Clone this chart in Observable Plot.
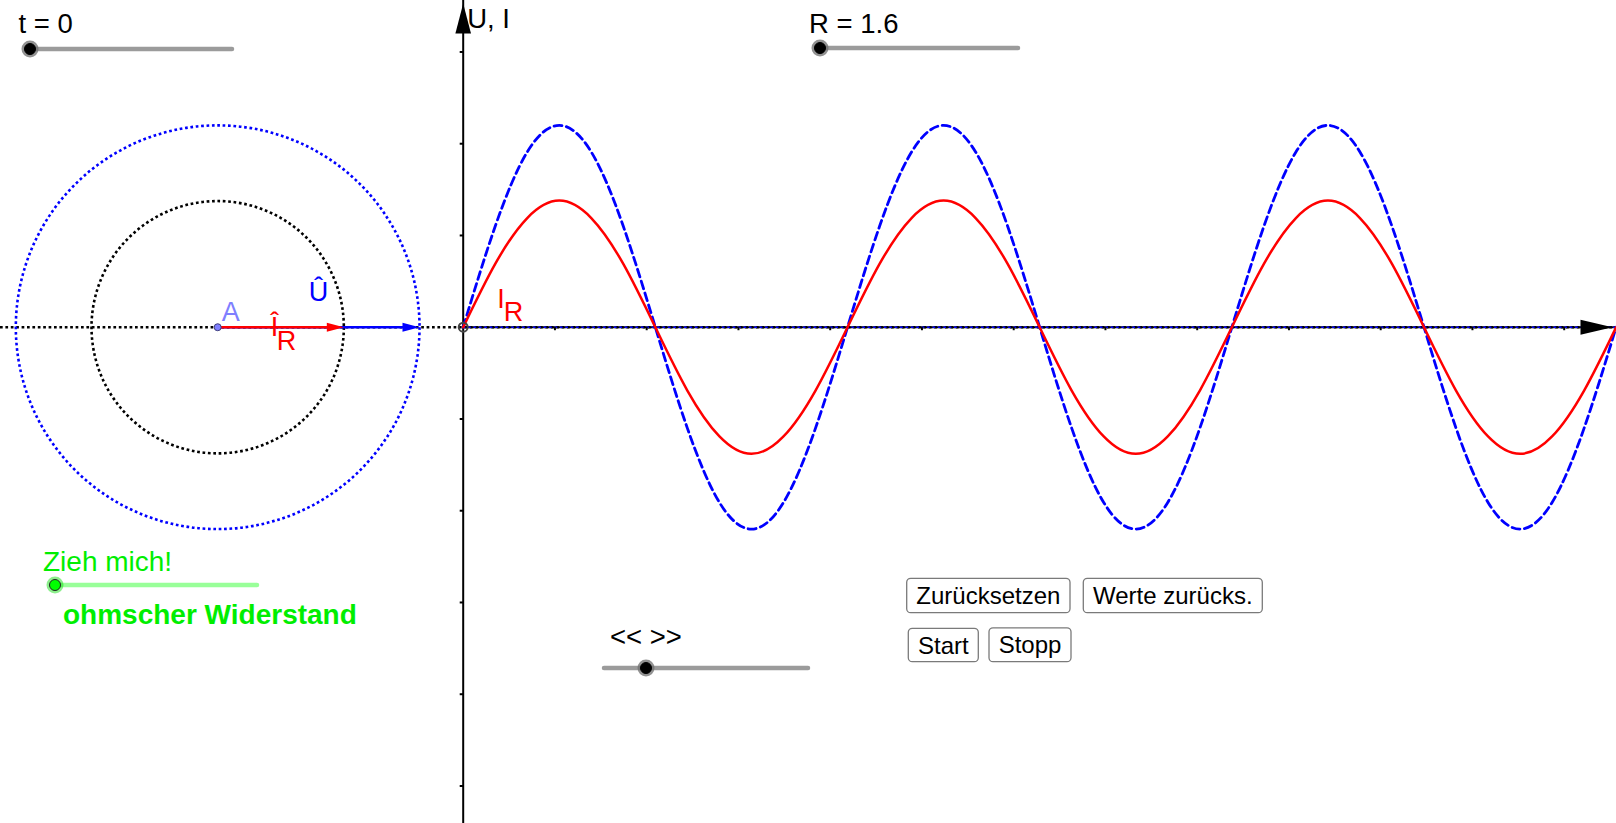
<!DOCTYPE html>
<html><head><meta charset="utf-8">
<script src="https://cdn.jsdelivr.net/npm/d3@7"></script>
<script src="https://cdn.jsdelivr.net/npm/@observablehq/plot@0.6"></script>
<style>
html,body{margin:0;padding:0;background:#fff;overflow:hidden;}
#wrap{position:relative;width:1616px;height:823px;}
#wrap svg{display:block;}
#ui{position:absolute;left:0;top:0;}
</style></head><body><div id="wrap"></div>
<script>
// ---- data (GeoGebra units) ----
const tValues = [0, 0.349, 0.698, 1.047, 1.396, 1.745, 2.094, 2.443, 2.793, 3.142, 3.491, 3.840,
  4.189, 4.538, 4.887, 5.236, 5.585, 5.934, 6.283, 6.632, 6.981, 7.330, 7.679, 8.029,
  8.378, 8.727, 9.076, 9.425, 9.774, 10.123, 10.472, 10.821, 11.170, 11.519, 11.868, 12.217, 12.566];
const uValues = [0, 1.10, 1.91, 2.20, 1.91, 1.10, 0, -1.10, -1.91, -2.20, -1.91, -1.10,
  0, 1.10, 1.91, 2.20, 1.91, 1.10, 0, -1.10, -1.91, -2.20, -1.91, -1.10,
  0, 1.10, 1.91, 2.20, 1.91, 1.10, 0, -1.10, -1.91, -2.20, -1.91, -1.10, 0];
const iValues = [0, 0.69, 1.19, 1.38, 1.19, 0.69, 0, -0.69, -1.19, -1.38, -1.19, -0.69,
  0, 0.69, 1.19, 1.38, 1.19, 0.69, 0, -0.69, -1.19, -1.38, -1.19, -0.69,
  0, 0.69, 1.19, 1.38, 1.19, 0.69, 0, -0.69, -1.19, -1.38, -1.19, -0.69, 0];
const pointA = [{x: -2.676, y: 0}];
const uAmplitude = 2.20;
const iAmplitude = 1.375;
const resistance = 1.6;
const timeValue = 0;
const yTicks = [-5, -4, -3, -2, -1, 1, 2, 3];
const xTicks = [1, 2, 3, 4, 5, 6, 7, 8, 9, 10, 11, 12];
const axisLabel = "U, I";
const buttonLabels = ["Zurücksetzen", "Werte zurücks.", "Start", "Stopp"];
const textZieh = "Zieh mich!";
const textMode = "ohmscher Widerstand";
const textSpeed = "<< >>";

// ---- chart ----
const W = 1616, H = 823;
const xDomain = [-5.043, 12.570], yDomain = [-5.409, 3.561];
const FONT = "'Liberation Sans', Arial, sans-serif";
const RED = "#ff0000", BLUE = "#0000ff";
const sx = Plot.scale({x: {domain: xDomain, range: [0, W]}});
const pxPerUnit = sx.apply(1) - sx.apply(0);
const rows = tValues.map((t, k) => ({t, u: uValues[k], i: iValues[k]}));
const A = pointA[0];
const vecU = [{x1: A.x, x2: A.x + uAmplitude - 0.1}];
const vecI = [{x1: A.x, x2: A.x + iAmplitude - 0.1}];
const tipU = [{x: A.x + uAmplitude, y: 0}];
const tipI = [{x: A.x + iAmplitude, y: 0}];

const arrowRight = {draw(c){c.moveTo(0,0);c.lineTo(-17,-4.5);c.lineTo(-17,4.5);c.closePath();}};
const axisArrowRight = {draw(c){c.moveTo(0,0);c.lineTo(-32,-7.5);c.lineTo(-32,7.5);c.closePath();}};
const axisArrowUp = {draw(c){c.moveTo(0,0);c.lineTo(-7.8,30);c.lineTo(7.8,30);c.closePath();}};
const tickLeft = {draw(c){c.moveTo(-3.5,0);c.lineTo(0,0);}};
const tickDown = {draw(c){c.moveTo(0,0);c.lineTo(0,3);}};

const LBL = 27;
const chart = Plot.plot({
  width: W, height: H, margin: 0,
  x: {domain: xDomain, axis: null},
  y: {domain: yDomain, axis: null},
  style: {background: "white", fontFamily: FONT},
  marks: [
    Plot.ruleY([0], {stroke: "black", strokeWidth: 2.5, strokeDasharray: "2.7,2.7"}),
    Plot.dot(pointA, {x: "x", y: "y", r: uAmplitude * pxPerUnit, stroke: BLUE, strokeWidth: 2.6, strokeDasharray: "2.7,2.7", fill: "none"}),
    Plot.dot(pointA, {x: "x", y: "y", r: iAmplitude * pxPerUnit, stroke: "black", strokeWidth: 2.6, strokeDasharray: "2.7,2.7", fill: "none"}),
    // axes
    Plot.ruleX([0], {stroke: "black", strokeWidth: 2}),
    Plot.ruleY([0], {x1: 0, x2: xDomain[1], stroke: "black", strokeWidth: 2}),
    Plot.ruleY([0], {x1: 0, x2: xDomain[1], stroke: BLUE, strokeWidth: 1.6, strokeDasharray: "2.7,2.7"}),
    Plot.dot(yTicks, {x: 0, y: d => d, symbol: tickLeft, stroke: "black", strokeWidth: 2, fill: "none"}),
    Plot.dot(xTicks, {x: d => d, y: 0, symbol: tickDown, stroke: "black", strokeWidth: 2, fill: "none"}),
    Plot.dot([0], {x: d => d, frameAnchor: "top", dy: 3, symbol: axisArrowUp, fill: "black", stroke: "none"}),
    Plot.dot([0], {y: d => d, frameAnchor: "right", dx: -4, symbol: axisArrowRight, fill: "black", stroke: "none"}),
    Plot.text([axisLabel], {x: 0, text: d => d, frameAnchor: "top", dx: 4, dy: 27, textAnchor: "start", lineAnchor: "bottom", fontSize: 27.5, fill: "black"}),
    // curves
    Plot.line(rows, {x: "t", y: "u", stroke: BLUE, strokeWidth: 2.8, strokeDasharray: "8,4.5", curve: "natural"}),
    Plot.line(rows, {x: "t", y: "i", stroke: RED, strokeWidth: 2.5, curve: "natural"}),
    // phasors
    Plot.link(vecU, {x1: "x1", x2: "x2", y1: 0, y2: 0, stroke: BLUE, strokeWidth: 2.6}),
    Plot.dot(tipU, {x: "x", y: "y", symbol: arrowRight, fill: BLUE, stroke: "none"}),
    Plot.link(vecI, {x1: "x1", x2: "x2", y1: 0, y2: 0, stroke: RED, strokeWidth: 2.6}),
    Plot.dot(tipI, {x: "x", y: "y", symbol: arrowRight, fill: RED, stroke: "none"}),
    Plot.dot([{x: 0, y: 0}], {x: "x", y: "y", r: 4.5, stroke: "#444", strokeWidth: 2, fill: "none"}),
    Plot.dot(pointA, {x: "x", y: "y", r: 3.5, fill: "#7f7fff", stroke: "#3d3d7a", strokeWidth: 1}),
    // labels
    Plot.text(pointA, {x: "x", y: "y", text: () => "A", dx: 4, dy: -6, textAnchor: "start", lineAnchor: "bottom", fontSize: LBL, fill: "#7f7fff"}),
    Plot.text(pointA, {x: "x", y: "y", text: () => "Û", dx: 91, dy: -26, textAnchor: "start", lineAnchor: "bottom", fontSize: LBL, fill: BLUE}),
    Plot.text(pointA, {x: "x", y: "y", text: () => "Î", dx: 53, dy: 9, textAnchor: "start", lineAnchor: "bottom", fontSize: LBL, fill: RED}),
    Plot.text(pointA, {x: "x", y: "y", text: () => "R", dx: 59, dy: 23, textAnchor: "start", lineAnchor: "bottom", fontSize: LBL, fill: RED}),
    Plot.text([{x: 0, y: 0}], {x: "x", y: "y", text: () => "I", dx: 34, dy: -19, textAnchor: "start", lineAnchor: "bottom", fontSize: LBL, fill: RED}),
    Plot.text([{x: 0, y: 0}], {x: "x", y: "y", text: () => "R", dx: 40.5, dy: -6, textAnchor: "start", lineAnchor: "bottom", fontSize: LBL, fill: RED})
  ]
});
const wrap = document.getElementById("wrap");
wrap.appendChild(chart);

// ---- applet widgets (overlay) ----
const ui = d3.select(wrap).append("svg").attr("id", "ui").attr("width", W).attr("height", H)
  .attr("font-family", FONT);
function slider(x1, x2, y, knob, color, lineColor, haloColor, knobStroke) {
  ui.append("line").attr("x1", x1).attr("x2", x2).attr("y1", y).attr("y2", y)
    .attr("stroke", lineColor).attr("stroke-width", 4.5).attr("stroke-linecap", "round");
  ui.append("circle").attr("cx", knob).attr("cy", y).attr("r", 8.5).attr("fill", haloColor);
  ui.append("circle").attr("cx", knob).attr("cy", y).attr("r", 5.5).attr("fill", color)
    .attr("stroke", knobStroke).attr("stroke-width", 1);
}
function label(x, y, text, size, color, weight) {
  ui.append("text").attr("x", x).attr("y", y).attr("font-size", size).attr("fill", color)
    .attr("font-weight", weight || "normal").text(text);
}
label(18.5, 33, `t = ${timeValue}`, 27.5, "black");
slider(30, 232, 49, 30, "#000", "#9b9b9b", "rgba(110,110,110,0.75)", "#000");
label(809, 33, `R = ${resistance}`, 27.5, "black");
slider(820, 1018, 48, 820, "#000", "#9b9b9b", "rgba(110,110,110,0.75)", "#000");
label(43, 571, textZieh, 28, "#00ee00");
slider(55, 257, 585, 55, "#00ff00", "#99ff99", "rgba(0,220,0,0.45)", "#222");
label(63, 624, textMode, 28, "#00ee00", "bold");
label(610, 646, textSpeed, 27.5, "black");
slider(604, 808, 668, 646, "#000", "#9b9b9b", "rgba(110,110,110,0.75)", "#000");
const boxes = [[906.7, 578.3, 163.3, 34.4], [1083.3, 578.3, 179, 34.4], [908.3, 628.3, 70, 33.4], [989, 627.8, 82, 33.9]];
boxes.forEach(([x, y, w, h], k) => {
  ui.append("rect").attr("x", x).attr("y", y).attr("width", w).attr("height", h).attr("rx", 4)
    .attr("fill", "white").attr("stroke", "#7a7a7a").attr("stroke-width", 1.3);
  ui.append("text").attr("x", x + w / 2).attr("y", y + h / 2 + 8.5).attr("text-anchor", "middle")
    .attr("font-size", 24).attr("fill", "black").text(buttonLabels[k]);
});
</script></body></html>
